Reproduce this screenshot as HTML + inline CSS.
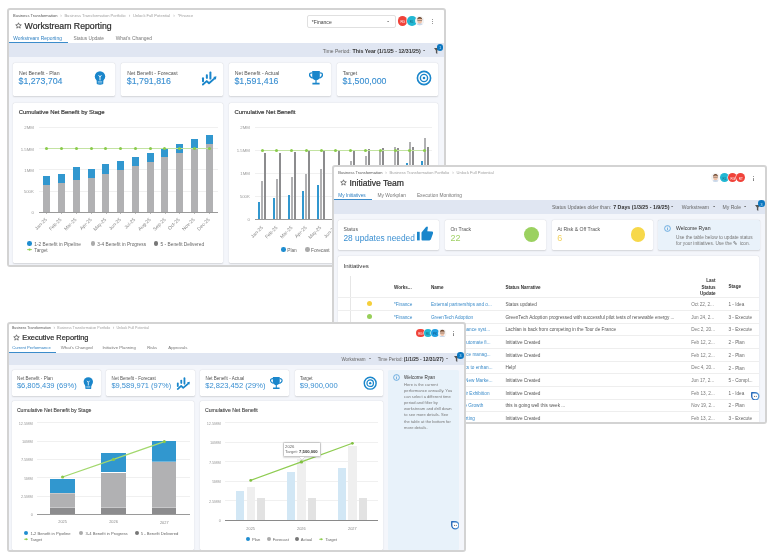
<!DOCTYPE html>
<html><head><meta charset="utf-8"><title>Reporting dashboards</title><style>
*{margin:0;padding:0;box-sizing:border-box}
html,body{width:768px;height:556px;background:#fff;overflow:hidden}
body{position:relative;font-family:'Liberation Sans','DejaVu Sans',sans-serif}
.win{position:absolute;background:#fff;overflow:hidden;outline:2px solid #d3d3d3;border-radius:1px}
.win>div,.win>svg{position:absolute}
.t{white-space:nowrap;line-height:1}
</style></head>
<body>
<div class="win" style="left:9.10px;top:9.80px;width:434.90px;height:255.70px;z-index:1"><div style="left:0.00px;top:47.70px;width:434.90px;height:208.00px;background:#f4f6fb;"></div>
<div style="left:0.00px;top:33.20px;width:434.90px;height:14.50px;background:#e0e6f2;"></div>
<div class="t" style="left:3.90px;top:4.20px;font-size:4.062px;color:#555;">Business Transformation</div>
<div class="t" style="left:51.20px;top:4.20px;font-size:4.500px;color:#aaa;">›</div>
<div class="t" style="left:55.30px;top:4.20px;font-size:4.107px;color:#a0a0a0;">Business Transformation Portfolio</div>
<div class="t" style="left:119.55px;top:4.20px;font-size:4.500px;color:#aaa;">›</div>
<div class="t" style="left:123.90px;top:4.20px;font-size:4.092px;color:#a0a0a0;">Unlock Full Potential</div>
<div class="t" style="left:164.15px;top:4.20px;font-size:4.500px;color:#aaa;">›</div>
<div class="t" style="left:168.60px;top:4.20px;font-size:3.902px;color:#a0a0a0;">*Finance</div>
<svg style="left:6.20px;top:12.70px" width="7.00" height="7.00" viewBox="0 0 10 10"><polygon points="5.000,1.150 6.111,3.821 8.994,4.052 6.797,5.934 7.469,8.748 5.000,7.240 2.531,8.748 3.203,5.934 1.006,4.052 3.889,3.821" fill="none" stroke="#444" stroke-width="0.95" stroke-linejoin="round"/></svg>
<div class="t" style="left:15.50px;top:12.20px;font-size:8.723px;color:#2e2e2e;-webkit-text-stroke:0.22px #2e2e2e;">Workstream Reporting</div>
<div class="t" style="left:4.10px;top:27.20px;font-size:4.887px;color:#2f80c2;">Workstream Reporting</div>
<div class="t" style="left:64.50px;top:27.20px;font-size:4.797px;color:#777;">Status Update</div>
<div class="t" style="left:106.60px;top:27.20px;font-size:4.931px;color:#777;">What's Changed</div>
<div style="left:0.00px;top:32.00px;width:58.90px;height:1.20px;background:#3b8ccb;"></div>
<div style="left:298.10px;top:4.90px;width:88.40px;height:12.90px;background:#fff;border:0.8px solid #e0e0e0;border-radius:2px;box-sizing:border-box;"></div>
<div class="t" style="left:302.70px;top:10.20px;font-size:5.067px;color:#444;">*Finance</div>
<svg style="left:378.20px;top:10.95px" width="2.20" height="1.10" viewBox="0 0 2.2 1.1"><path d="M0 0 L2.2 0 L1.1 1.1 Z" fill="#666"/></svg>
<div style="left:388.80px;top:6.40px;width:9.60px;height:9.60px;background:#f0433a;border-radius:50%;box-shadow:0 0 0 0.6px #fff;"></div>
<div class="t" style="left:391.35px;top:11.20px;font-size:3.000px;color:#fff;">RG</div>
<div style="left:397.90px;top:6.40px;width:9.60px;height:9.60px;background:#22b7d3;border-radius:50%;box-shadow:0 0 0 0.6px #fff;"></div>
<div class="t" style="left:400.78px;top:11.20px;font-size:3.000px;color:#176a80;">RL</div>
<svg style="left:405.60px;top:6.50px" width="9.40" height="9.40" viewBox="0 0 10 10"><defs><clipPath id="ph1"><circle cx="5" cy="5" r="5"/></clipPath></defs><g clip-path="url(#ph1)"><rect width="10" height="10" fill="#f3f3f3"/><path d="M1.2 10.5 Q1.6 7.6 5 7.5 Q8.4 7.6 8.8 10.5 Z" fill="#c9d8ea"/><ellipse cx="5" cy="5.0" rx="2.55" ry="3.0" fill="#efc1a6"/><path d="M2.3 4.9 Q2.0 1.0 5.0 1.0 Q8.0 1.0 7.7 4.9 L7.2 3.3 Q5 2.5 2.8 3.3 Z" fill="#6e4a33"/><rect x="2.6" y="4.3" width="4.8" height="0.8" fill="#555" opacity="0.7"/></g></svg>
<div style="left:423.05px;top:9.45px;width:1.10px;height:1.10px;background:#777;border-radius:50%;"></div>
<div style="left:423.05px;top:11.15px;width:1.10px;height:1.10px;background:#777;border-radius:50%;"></div>
<div style="left:423.05px;top:12.85px;width:1.10px;height:1.10px;background:#777;border-radius:50%;"></div>
<div class="t" style="left:313.60px;top:39.20px;font-size:5.281px;color:#333;"><span style="font-size:4.990px;color:#666;">Time Period:</span><span style="font-size:5.281px;color:#333;font-weight:bold;margin-left:1.90px;">This Year (1/1/25 - 12/31/25)</span></div>
<svg style="left:414.00px;top:40.15px" width="2.20" height="1.10" viewBox="0 0 2.2 1.1"><path d="M0 0 L2.2 0 L1.1 1.1 Z" fill="#444"/></svg>
<svg style="left:425.00px;top:38.40px" width="5.20" height="6.00" viewBox="0 0 5.2 6"><path d="M0 0 L5.2 0 L3.3 2.5 L3.3 6.0 L1.9 5.0 L1.9 2.5 Z" fill="#555"/></svg>
<div style="left:427.80px;top:34.20px;width:6.60px;height:6.60px;background:#0b77c0;border-radius:50%;"></div>
<div class="t" style="left:430.10px;top:37.20px;font-size:3.600px;color:#cfe6f7;">1</div>
<div style="left:3.80px;top:53.00px;width:102.00px;height:33.40px;background:#fff;border-radius:1.5px;box-shadow:0 0.7px 1.6px rgba(0,0,0,0.14),0 0 0.6px rgba(0,0,0,0.10);"></div>
<div class="t" style="left:9.80px;top:61.20px;font-size:5.200px;color:#555;">Net Benefit - Plan</div>
<div class="t" style="left:9.40px;top:67.20px;font-size:8.800px;color:#3a8fd1;-webkit-text-stroke:0.12px #3a8fd1;">$1,273,704</div>
<svg style="left:84.30px;top:61.20px" width="14.00" height="14.00" viewBox="0 0 14 14"><circle cx="7" cy="5.4" r="5.2" fill="#1a86cb"/><path d="M3.6 8.6 L10.4 8.6 L10.2 13.0 Q7 14.4 3.8 13.0 Z" fill="#1a86cb"/><path d="M5.6 4.2 L7 6.0 L8.4 4.2 M7 6.0 L7 9.4" stroke="#fff" stroke-width="0.9" fill="none"/><path d="M4.8 10.6 L9.2 10.6 M4.8 11.9 L9.2 11.9" stroke="#d8ecf8" stroke-width="0.55"/></svg>
<div style="left:112.10px;top:53.00px;width:101.70px;height:33.40px;background:#fff;border-radius:1.5px;box-shadow:0 0.7px 1.6px rgba(0,0,0,0.14),0 0 0.6px rgba(0,0,0,0.10);"></div>
<div class="t" style="left:118.10px;top:61.20px;font-size:5.200px;color:#555;">Net Benefit - Forecast</div>
<div class="t" style="left:117.70px;top:67.20px;font-size:8.800px;color:#3a8fd1;-webkit-text-stroke:0.12px #3a8fd1;">$1,791,816</div>
<svg style="left:191.90px;top:60.20px" width="16.00" height="16.00" viewBox="0 0 16 16"><g fill="#1a86cb"><rect x="1.0" y="7.3" width="2.0" height="4.9" rx="0.9"/><rect x="4.85" y="4.2" width="2.0" height="4.6" rx="0.9"/><rect x="8.4" y="1.5" width="2.0" height="8.1" rx="0.9"/><path d="M15.4 6.3 L12.2 7.0 L14.9 9.7 Z"/></g><path d="M1.9 14.5 L5.75 11.1 L8.0 13.3 L13.6 8.4" stroke="#1a86cb" stroke-width="1.9" fill="none" stroke-linecap="round" stroke-linejoin="round"/></svg>
<div style="left:219.70px;top:53.00px;width:102.10px;height:33.40px;background:#fff;border-radius:1.5px;box-shadow:0 0.7px 1.6px rgba(0,0,0,0.14),0 0 0.6px rgba(0,0,0,0.10);"></div>
<div class="t" style="left:225.70px;top:61.20px;font-size:5.200px;color:#555;">Net Benefit - Actual</div>
<div class="t" style="left:225.30px;top:67.20px;font-size:8.800px;color:#3a8fd1;-webkit-text-stroke:0.12px #3a8fd1;">$1,591,416</div>
<svg style="left:300.10px;top:61.30px" width="14.00" height="14.00" viewBox="0 0 14 14"><path d="M3.2 0 L10.8 0 L10.8 5.6 Q10.6 8.6 7.6 9.2 L7.6 11.8 L10.6 11.8 L10.6 13.6 L3.4 13.6 L3.4 11.8 L6.4 11.8 L6.4 9.2 Q3.4 8.6 3.2 5.6 Z" fill="#1a86cb"/><path d="M3.4 1.8 Q0.4 1.6 0.6 4.2 Q0.9 6.6 3.8 7.0 M10.6 1.8 Q13.6 1.6 13.4 4.2 Q13.1 6.6 10.2 7.0" stroke="#1a86cb" stroke-width="1.3" fill="none"/></svg>
<div style="left:327.70px;top:53.00px;width:101.40px;height:33.40px;background:#fff;border-radius:1.5px;box-shadow:0 0.7px 1.6px rgba(0,0,0,0.14),0 0 0.6px rgba(0,0,0,0.10);"></div>
<div class="t" style="left:333.70px;top:61.20px;font-size:5.200px;color:#555;">Target</div>
<div class="t" style="left:333.30px;top:67.20px;font-size:8.800px;color:#3a8fd1;-webkit-text-stroke:0.12px #3a8fd1;">$1,500,000</div>
<svg style="left:406.60px;top:60.20px" width="16.00" height="16.00" viewBox="0 0 16 16"><circle cx="8" cy="8" r="6.6" stroke="#1a86cb" stroke-width="1.6" fill="none"/><circle cx="8" cy="8" r="3.6" stroke="#1a86cb" stroke-width="1.4" fill="none"/><circle cx="8" cy="8" r="1.3" fill="#1a86cb"/></svg>
<div style="left:3.80px;top:93.50px;width:210.00px;height:159.70px;background:#fff;border-radius:1.5px;box-shadow:0 0.7px 1.6px rgba(0,0,0,0.14),0 0 0.6px rgba(0,0,0,0.10);"></div>
<div style="left:219.70px;top:93.50px;width:209.40px;height:159.70px;background:#fff;border-radius:1.5px;box-shadow:0 0.7px 1.6px rgba(0,0,0,0.14),0 0 0.6px rgba(0,0,0,0.10);"></div>
<div class="t" style="left:9.70px;top:100.20px;font-size:5.951px;color:#3a3a3a;-webkit-text-stroke:0.18px #3a3a3a;">Cumulative Net Benefit by Stage</div>
<div class="t" style="left:225.40px;top:99.20px;font-size:5.984px;color:#3a3a3a;-webkit-text-stroke:0.18px #3a3a3a;">Cumulative Net Benefit</div>
<div style="left:29.90px;top:180.80px;width:179.50px;height:0.70px;background:#f0f0f0;"></div>
<div class="t" style="left:14.76px;top:180.20px;font-size:4.300px;color:#999;">500K</div>
<div style="left:29.90px;top:159.65px;width:179.50px;height:0.70px;background:#f0f0f0;"></div>
<div class="t" style="left:15.24px;top:159.20px;font-size:4.300px;color:#999;">1MM</div>
<div style="left:29.90px;top:138.50px;width:179.50px;height:0.70px;background:#f0f0f0;"></div>
<div class="t" style="left:11.66px;top:138.20px;font-size:4.300px;color:#999;">1.5MM</div>
<div style="left:29.90px;top:117.35px;width:179.50px;height:0.70px;background:#f0f0f0;"></div>
<div class="t" style="left:15.24px;top:116.20px;font-size:4.300px;color:#999;">2MM</div>
<div class="t" style="left:22.41px;top:201.20px;font-size:4.300px;color:#999;">0</div>
<div style="left:34.10px;top:166.00px;width:7.00px;height:36.30px;background:#3197cf;"></div>
<div style="left:34.10px;top:175.10px;width:7.00px;height:27.20px;background:#b1b1b3;"></div>
<div style="left:37.30px;top:202.30px;width:0.60px;height:1.60px;background:#bbb;"></div>
<div class="t" style="left:23.02px;top:207.25px;font-size:4.90px;color:#888;transform-origin:100% 50%;transform:rotate(-45deg)">Jan-25</div>
<div style="left:48.88px;top:163.90px;width:7.00px;height:38.40px;background:#3197cf;"></div>
<div style="left:48.88px;top:172.80px;width:7.00px;height:29.50px;background:#b1b1b3;"></div>
<div style="left:52.08px;top:202.30px;width:0.60px;height:1.60px;background:#bbb;"></div>
<div class="t" style="left:37.25px;top:207.25px;font-size:4.90px;color:#888;transform-origin:100% 50%;transform:rotate(-45deg)">Feb-25</div>
<div style="left:63.66px;top:157.10px;width:7.00px;height:45.20px;background:#3197cf;"></div>
<div style="left:63.66px;top:170.70px;width:7.00px;height:31.60px;background:#b1b1b3;"></div>
<div style="left:66.86px;top:202.30px;width:0.60px;height:1.60px;background:#bbb;"></div>
<div class="t" style="left:52.04px;top:207.25px;font-size:4.90px;color:#888;transform-origin:100% 50%;transform:rotate(-45deg)">Mar-25</div>
<div style="left:78.44px;top:159.20px;width:7.00px;height:43.10px;background:#3197cf;"></div>
<div style="left:78.44px;top:168.30px;width:7.00px;height:34.00px;background:#b1b1b3;"></div>
<div style="left:81.64px;top:202.30px;width:0.60px;height:1.60px;background:#bbb;"></div>
<div class="t" style="left:67.63px;top:207.25px;font-size:4.90px;color:#888;transform-origin:100% 50%;transform:rotate(-45deg)">Apr-25</div>
<div style="left:93.22px;top:154.70px;width:7.00px;height:47.60px;background:#3197cf;"></div>
<div style="left:93.22px;top:164.30px;width:7.00px;height:38.00px;background:#b1b1b3;"></div>
<div style="left:96.42px;top:202.30px;width:0.60px;height:1.60px;background:#bbb;"></div>
<div class="t" style="left:80.78px;top:207.25px;font-size:4.90px;color:#888;transform-origin:100% 50%;transform:rotate(-45deg)">May-25</div>
<div style="left:108.00px;top:151.00px;width:7.00px;height:51.30px;background:#3197cf;"></div>
<div style="left:108.00px;top:160.10px;width:7.00px;height:42.20px;background:#b1b1b3;"></div>
<div style="left:111.20px;top:202.30px;width:0.60px;height:1.60px;background:#bbb;"></div>
<div class="t" style="left:96.92px;top:207.25px;font-size:4.90px;color:#888;transform-origin:100% 50%;transform:rotate(-45deg)">Jun-25</div>
<div style="left:122.78px;top:147.00px;width:7.00px;height:55.30px;background:#3197cf;"></div>
<div style="left:122.78px;top:156.10px;width:7.00px;height:46.20px;background:#b1b1b3;"></div>
<div style="left:125.98px;top:202.30px;width:0.60px;height:1.60px;background:#bbb;"></div>
<div class="t" style="left:113.33px;top:207.25px;font-size:4.90px;color:#888;transform-origin:100% 50%;transform:rotate(-45deg)">Jul-25</div>
<div style="left:137.56px;top:142.80px;width:7.00px;height:59.50px;background:#3197cf;"></div>
<div style="left:137.56px;top:151.90px;width:7.00px;height:50.40px;background:#b1b1b3;"></div>
<div style="left:140.76px;top:202.30px;width:0.60px;height:1.60px;background:#bbb;"></div>
<div class="t" style="left:125.66px;top:207.25px;font-size:4.90px;color:#888;transform-origin:100% 50%;transform:rotate(-45deg)">Aug-25</div>
<div style="left:152.34px;top:139.00px;width:7.00px;height:63.30px;background:#3197cf;"></div>
<div style="left:152.34px;top:147.50px;width:7.00px;height:54.80px;background:#b1b1b3;"></div>
<div style="left:155.54px;top:202.30px;width:0.60px;height:1.60px;background:#bbb;"></div>
<div class="t" style="left:140.44px;top:207.25px;font-size:4.90px;color:#888;transform-origin:100% 50%;transform:rotate(-45deg)">Sep-25</div>
<div style="left:167.12px;top:133.90px;width:7.00px;height:68.40px;background:#3197cf;"></div>
<div style="left:167.12px;top:143.00px;width:7.00px;height:59.30px;background:#b1b1b3;"></div>
<div style="left:170.32px;top:202.30px;width:0.60px;height:1.60px;background:#bbb;"></div>
<div class="t" style="left:156.32px;top:207.25px;font-size:4.90px;color:#888;transform-origin:100% 50%;transform:rotate(-45deg)">Oct-25</div>
<div style="left:181.90px;top:129.70px;width:7.00px;height:72.60px;background:#3197cf;"></div>
<div style="left:181.90px;top:139.00px;width:7.00px;height:63.30px;background:#b1b1b3;"></div>
<div style="left:185.10px;top:202.30px;width:0.60px;height:1.60px;background:#bbb;"></div>
<div class="t" style="left:170.00px;top:207.25px;font-size:4.90px;color:#888;transform-origin:100% 50%;transform:rotate(-45deg)">Nov-25</div>
<div style="left:196.68px;top:125.40px;width:7.00px;height:76.90px;background:#3197cf;"></div>
<div style="left:196.68px;top:134.60px;width:7.00px;height:67.70px;background:#b1b1b3;"></div>
<div style="left:199.88px;top:202.30px;width:0.60px;height:1.60px;background:#bbb;"></div>
<div class="t" style="left:184.78px;top:207.25px;font-size:4.90px;color:#888;transform-origin:100% 50%;transform:rotate(-45deg)">Dec-25</div>
<div style="left:29.90px;top:201.90px;width:179.50px;height:0.90px;background:#9a9a9a;"></div>
<div style="left:37.60px;top:138.70px;width:162.58px;height:1.00px;background:#c3e3a2;"></div>
<div style="left:36.10px;top:137.70px;width:3.00px;height:3.00px;background:#8acb4c;border-radius:50%;"></div>
<div style="left:50.88px;top:137.70px;width:3.00px;height:3.00px;background:#8acb4c;border-radius:50%;"></div>
<div style="left:65.66px;top:137.70px;width:3.00px;height:3.00px;background:#8acb4c;border-radius:50%;"></div>
<div style="left:80.44px;top:137.70px;width:3.00px;height:3.00px;background:#8acb4c;border-radius:50%;"></div>
<div style="left:95.22px;top:137.70px;width:3.00px;height:3.00px;background:#8acb4c;border-radius:50%;"></div>
<div style="left:110.00px;top:137.70px;width:3.00px;height:3.00px;background:#8acb4c;border-radius:50%;"></div>
<div style="left:124.78px;top:137.70px;width:3.00px;height:3.00px;background:#8acb4c;border-radius:50%;"></div>
<div style="left:139.56px;top:137.70px;width:3.00px;height:3.00px;background:#8acb4c;border-radius:50%;"></div>
<div style="left:154.34px;top:137.70px;width:3.00px;height:3.00px;background:#8acb4c;border-radius:50%;"></div>
<div style="left:169.12px;top:137.70px;width:3.00px;height:3.00px;background:#8acb4c;border-radius:50%;"></div>
<div style="left:183.90px;top:137.70px;width:3.00px;height:3.00px;background:#8acb4c;border-radius:50%;"></div>
<div style="left:198.68px;top:137.70px;width:3.00px;height:3.00px;background:#8acb4c;border-radius:50%;"></div>
<div style="left:18.20px;top:231.40px;width:4.60px;height:4.60px;background:#1f8dd0;border-radius:50%;"></div>
<div class="t" style="left:25.20px;top:233.20px;font-size:4.800px;color:#666;">1-2 Benefit in Pipeline</div>
<div style="left:81.50px;top:231.40px;width:4.60px;height:4.60px;background:#aaaaaa;border-radius:50%;"></div>
<div class="t" style="left:88.20px;top:233.20px;font-size:4.800px;color:#666;">3-4 Benefit in Progress</div>
<div style="left:144.50px;top:231.40px;width:4.60px;height:4.60px;background:#777777;border-radius:50%;"></div>
<div class="t" style="left:151.50px;top:233.20px;font-size:4.800px;color:#666;">5 - Benefit Delivered</div>
<svg style="left:17.90px;top:237.60px" width="5.20" height="5.20" viewBox="0 0 5.2 5.2"><line x1="0" y1="2.6" x2="5.2" y2="2.6" stroke="#9fd46a" stroke-width="0.91"/><circle cx="2.6" cy="2.6" r="1.17" fill="#8ccc4e"/></svg>
<div class="t" style="left:25.20px;top:239.20px;font-size:4.800px;color:#666;">Target</div>
<div style="left:245.50px;top:186.38px;width:177.90px;height:0.70px;background:#f0f0f0;"></div>
<div class="t" style="left:230.76px;top:185.20px;font-size:4.300px;color:#999;">500K</div>
<div style="left:245.50px;top:163.30px;width:177.90px;height:0.70px;background:#f0f0f0;"></div>
<div class="t" style="left:231.24px;top:162.20px;font-size:4.300px;color:#999;">1MM</div>
<div style="left:245.50px;top:140.22px;width:177.90px;height:0.70px;background:#f0f0f0;"></div>
<div class="t" style="left:227.66px;top:139.20px;font-size:4.300px;color:#999;">1.5MM</div>
<div style="left:245.50px;top:117.15px;width:177.90px;height:0.70px;background:#f0f0f0;"></div>
<div class="t" style="left:231.24px;top:116.20px;font-size:4.300px;color:#999;">2MM</div>
<div class="t" style="left:238.41px;top:208.20px;font-size:4.300px;color:#999;">0</div>
<div style="left:249.00px;top:192.50px;width:2.00px;height:17.30px;background:#3197cf;"></div>
<div style="left:252.00px;top:171.70px;width:2.00px;height:38.10px;background:#b1b1b3;"></div>
<div style="left:255.00px;top:143.50px;width:2.00px;height:66.30px;background:#8c8c8e;"></div>
<div class="t" style="left:238.42px;top:214.75px;font-size:4.90px;color:#888;transform-origin:100% 50%;transform:rotate(-45deg)">Jan-25</div>
<div style="left:263.78px;top:188.70px;width:2.00px;height:21.10px;background:#3197cf;"></div>
<div style="left:266.78px;top:169.10px;width:2.00px;height:40.70px;background:#b1b1b3;"></div>
<div style="left:269.78px;top:143.00px;width:2.00px;height:66.80px;background:#8c8c8e;"></div>
<div class="t" style="left:252.65px;top:214.75px;font-size:4.90px;color:#888;transform-origin:100% 50%;transform:rotate(-45deg)">Feb-25</div>
<div style="left:278.56px;top:184.80px;width:2.00px;height:25.00px;background:#3197cf;"></div>
<div style="left:281.56px;top:166.90px;width:2.00px;height:42.90px;background:#b1b1b3;"></div>
<div style="left:284.56px;top:142.10px;width:2.00px;height:67.70px;background:#8c8c8e;"></div>
<div class="t" style="left:267.44px;top:214.75px;font-size:4.90px;color:#888;transform-origin:100% 50%;transform:rotate(-45deg)">Mar-25</div>
<div style="left:293.34px;top:181.20px;width:2.00px;height:28.60px;background:#3197cf;"></div>
<div style="left:296.34px;top:164.30px;width:2.00px;height:45.50px;background:#b1b1b3;"></div>
<div style="left:299.34px;top:141.60px;width:2.00px;height:68.20px;background:#8c8c8e;"></div>
<div class="t" style="left:283.03px;top:214.75px;font-size:4.90px;color:#888;transform-origin:100% 50%;transform:rotate(-45deg)">Apr-25</div>
<div style="left:308.12px;top:175.30px;width:2.00px;height:34.50px;background:#3197cf;"></div>
<div style="left:311.12px;top:159.70px;width:2.00px;height:50.10px;background:#b1b1b3;"></div>
<div style="left:314.12px;top:141.20px;width:2.00px;height:68.60px;background:#8c8c8e;"></div>
<div class="t" style="left:296.18px;top:214.75px;font-size:4.90px;color:#888;transform-origin:100% 50%;transform:rotate(-45deg)">May-25</div>
<div style="left:322.90px;top:170.00px;width:2.00px;height:39.80px;background:#3197cf;"></div>
<div style="left:325.90px;top:156.20px;width:2.00px;height:53.60px;background:#b1b1b3;"></div>
<div style="left:328.90px;top:141.00px;width:2.00px;height:68.80px;background:#8c8c8e;"></div>
<div class="t" style="left:312.32px;top:214.75px;font-size:4.90px;color:#888;transform-origin:100% 50%;transform:rotate(-45deg)">Jun-25</div>
<div style="left:337.68px;top:165.20px;width:2.00px;height:44.60px;background:#3197cf;"></div>
<div style="left:340.68px;top:151.20px;width:2.00px;height:58.60px;background:#b1b1b3;"></div>
<div style="left:343.68px;top:140.20px;width:2.00px;height:69.60px;background:#8c8c8e;"></div>
<div class="t" style="left:328.73px;top:214.75px;font-size:4.90px;color:#888;transform-origin:100% 50%;transform:rotate(-45deg)">Jul-25</div>
<div style="left:352.46px;top:161.20px;width:2.00px;height:48.60px;background:#3197cf;"></div>
<div style="left:355.46px;top:146.70px;width:2.00px;height:63.10px;background:#b1b1b3;"></div>
<div style="left:358.46px;top:139.50px;width:2.00px;height:70.30px;background:#8c8c8e;"></div>
<div class="t" style="left:341.06px;top:214.75px;font-size:4.90px;color:#888;transform-origin:100% 50%;transform:rotate(-45deg)">Aug-25</div>
<div style="left:367.24px;top:158.20px;width:2.00px;height:51.60px;background:#3197cf;"></div>
<div style="left:370.24px;top:139.80px;width:2.00px;height:70.00px;background:#b1b1b3;"></div>
<div style="left:373.24px;top:138.70px;width:2.00px;height:71.10px;background:#8c8c8e;"></div>
<div class="t" style="left:355.84px;top:214.75px;font-size:4.90px;color:#888;transform-origin:100% 50%;transform:rotate(-45deg)">Sep-25</div>
<div style="left:382.02px;top:155.20px;width:2.00px;height:54.60px;background:#3197cf;"></div>
<div style="left:385.02px;top:137.20px;width:2.00px;height:72.60px;background:#b1b1b3;"></div>
<div style="left:388.02px;top:138.40px;width:2.00px;height:71.40px;background:#8c8c8e;"></div>
<div class="t" style="left:371.72px;top:214.75px;font-size:4.90px;color:#888;transform-origin:100% 50%;transform:rotate(-45deg)">Oct-25</div>
<div style="left:396.80px;top:153.10px;width:2.00px;height:56.70px;background:#3197cf;"></div>
<div style="left:399.80px;top:132.70px;width:2.00px;height:77.10px;background:#b1b1b3;"></div>
<div style="left:402.80px;top:137.70px;width:2.00px;height:72.10px;background:#8c8c8e;"></div>
<div class="t" style="left:385.40px;top:214.75px;font-size:4.90px;color:#888;transform-origin:100% 50%;transform:rotate(-45deg)">Nov-25</div>
<div style="left:411.58px;top:151.60px;width:2.00px;height:58.20px;background:#3197cf;"></div>
<div style="left:414.58px;top:128.20px;width:2.00px;height:81.60px;background:#b1b1b3;"></div>
<div style="left:417.58px;top:137.50px;width:2.00px;height:72.30px;background:#8c8c8e;"></div>
<div class="t" style="left:400.18px;top:214.75px;font-size:4.90px;color:#888;transform-origin:100% 50%;transform:rotate(-45deg)">Dec-25</div>
<div style="left:245.50px;top:209.40px;width:177.90px;height:0.90px;background:#9a9a9a;"></div>
<div style="left:253.00px;top:140.40px;width:162.58px;height:1.00px;background:#c3e3a2;"></div>
<div style="left:251.50px;top:139.40px;width:3.00px;height:3.00px;background:#8acb4c;border-radius:50%;"></div>
<div style="left:266.28px;top:139.40px;width:3.00px;height:3.00px;background:#8acb4c;border-radius:50%;"></div>
<div style="left:281.06px;top:139.40px;width:3.00px;height:3.00px;background:#8acb4c;border-radius:50%;"></div>
<div style="left:295.84px;top:139.40px;width:3.00px;height:3.00px;background:#8acb4c;border-radius:50%;"></div>
<div style="left:310.62px;top:139.40px;width:3.00px;height:3.00px;background:#8acb4c;border-radius:50%;"></div>
<div style="left:325.40px;top:139.40px;width:3.00px;height:3.00px;background:#8acb4c;border-radius:50%;"></div>
<div style="left:340.18px;top:139.40px;width:3.00px;height:3.00px;background:#8acb4c;border-radius:50%;"></div>
<div style="left:354.96px;top:139.40px;width:3.00px;height:3.00px;background:#8acb4c;border-radius:50%;"></div>
<div style="left:369.74px;top:139.40px;width:3.00px;height:3.00px;background:#8acb4c;border-radius:50%;"></div>
<div style="left:384.52px;top:139.40px;width:3.00px;height:3.00px;background:#8acb4c;border-radius:50%;"></div>
<div style="left:399.30px;top:139.40px;width:3.00px;height:3.00px;background:#8acb4c;border-radius:50%;"></div>
<div style="left:414.08px;top:139.40px;width:3.00px;height:3.00px;background:#8acb4c;border-radius:50%;"></div>
<div style="left:272.40px;top:237.60px;width:4.60px;height:4.60px;background:#1f8dd0;border-radius:50%;"></div>
<div class="t" style="left:278.10px;top:239.20px;font-size:4.800px;color:#666;">Plan</div>
<div style="left:296.10px;top:237.60px;width:4.60px;height:4.60px;background:#aaaaaa;border-radius:50%;"></div>
<div class="t" style="left:301.90px;top:239.20px;font-size:4.800px;color:#666;">Forecast</div>
<div style="left:324.10px;top:237.60px;width:4.60px;height:4.60px;background:#777777;border-radius:50%;"></div>
<div class="t" style="left:329.90px;top:239.20px;font-size:4.800px;color:#666;">Actual</div></div>
<div class="win" style="left:334.40px;top:166.70px;width:431.00px;height:255.30px;z-index:2"><div style="left:0.00px;top:47.50px;width:431.00px;height:207.80px;background:#f4f6fb;"></div>
<div style="left:0.00px;top:33.50px;width:431.00px;height:14.00px;background:#e0e6f2;"></div>
<div class="t" style="left:3.80px;top:4.30px;font-size:4.025px;color:#555;">Business Transformation</div>
<div class="t" style="left:50.85px;top:4.30px;font-size:4.500px;color:#aaa;">›</div>
<div class="t" style="left:55.10px;top:4.30px;font-size:4.013px;color:#a0a0a0;">Business Transformation Portfolio</div>
<div class="t" style="left:117.85px;top:4.30px;font-size:4.500px;color:#aaa;">›</div>
<div class="t" style="left:122.10px;top:4.30px;font-size:4.092px;color:#a0a0a0;">Unlock Full Potential</div>
<svg style="left:6.00px;top:12.70px" width="7.00" height="7.00" viewBox="0 0 10 10"><polygon points="5.000,1.150 6.111,3.821 8.994,4.052 6.797,5.934 7.469,8.748 5.000,7.240 2.531,8.748 3.203,5.934 1.006,4.052 3.889,3.821" fill="none" stroke="#444" stroke-width="0.95" stroke-linejoin="round"/></svg>
<div class="t" style="left:15.00px;top:12.30px;font-size:8.567px;color:#2e2e2e;-webkit-text-stroke:0.22px #2e2e2e;">Initiative Team</div>
<div class="t" style="left:3.80px;top:27.30px;font-size:4.776px;color:#2f80c2;">My Initiatives</div>
<div class="t" style="left:43.10px;top:27.30px;font-size:4.883px;color:#777;">My Workplan</div>
<div class="t" style="left:82.50px;top:27.30px;font-size:4.840px;color:#777;">Execution Monitoring</div>
<div style="left:0.00px;top:32.30px;width:37.30px;height:1.20px;background:#3b8ccb;"></div>
<svg style="left:376.80px;top:6.70px" width="9.00" height="9.00" viewBox="0 0 10 10"><defs><clipPath id="ph2"><circle cx="5" cy="5" r="5"/></clipPath></defs><g clip-path="url(#ph2)"><rect width="10" height="10" fill="#f3f3f3"/><path d="M1.2 10.5 Q1.6 7.6 5 7.5 Q8.4 7.6 8.8 10.5 Z" fill="#c9d8ea"/><ellipse cx="5" cy="5.0" rx="2.55" ry="3.0" fill="#efc1a6"/><path d="M2.3 4.9 Q2.0 1.0 5.0 1.0 Q8.0 1.0 7.7 4.9 L7.2 3.3 Q5 2.5 2.8 3.3 Z" fill="#6e4a33"/><rect x="2.6" y="4.3" width="4.8" height="0.8" fill="#555" opacity="0.7"/></g></svg>
<div style="left:385.40px;top:6.60px;width:9.20px;height:9.20px;background:#22b7d3;border-radius:50%;box-shadow:0 0 0 0.6px #fff;"></div>
<div class="t" style="left:388.08px;top:11.30px;font-size:3.000px;color:#176a80;">RL</div>
<div style="left:393.80px;top:6.60px;width:9.20px;height:9.20px;background:#f0433a;border-radius:50%;box-shadow:0 0 0 0.6px #fff;"></div>
<div class="t" style="left:396.15px;top:11.30px;font-size:3.000px;color:#fff;">RG</div>
<div style="left:401.80px;top:6.60px;width:9.20px;height:9.20px;background:#f0433a;border-radius:50%;box-shadow:0 0 0 0.6px #fff;"></div>
<div class="t" style="left:404.43px;top:11.30px;font-size:3.000px;color:#fff;">RT</div>
<div style="left:418.95px;top:9.35px;width:1.10px;height:1.10px;background:#777;border-radius:50%;"></div>
<div style="left:418.95px;top:11.05px;width:1.10px;height:1.10px;background:#777;border-radius:50%;"></div>
<div style="left:418.95px;top:12.75px;width:1.10px;height:1.10px;background:#777;border-radius:50%;"></div>
<div class="t" style="left:217.50px;top:38.30px;font-size:5.312px;color:#333;"><span style="font-size:5.008px;color:#666;">Status Updates older than:</span><span style="font-size:5.312px;color:#333;font-weight:bold;margin-left:2.10px;">7 Days (1/3/25 - 1/9/25)</span></div>
<svg style="left:337.10px;top:39.75px" width="2.20" height="1.10" viewBox="0 0 2.2 1.1"><path d="M0 0 L2.2 0 L1.1 1.1 Z" fill="#444"/></svg>
<div class="t" style="left:347.40px;top:38.30px;font-size:5.083px;color:#666;">Workstream</div>
<svg style="left:378.40px;top:39.75px" width="2.20" height="1.10" viewBox="0 0 2.2 1.1"><path d="M0 0 L2.2 0 L1.1 1.1 Z" fill="#444"/></svg>
<div class="t" style="left:388.10px;top:38.30px;font-size:5.099px;color:#666;">My Role</div>
<svg style="left:409.80px;top:39.75px" width="2.20" height="1.10" viewBox="0 0 2.2 1.1"><path d="M0 0 L2.2 0 L1.1 1.1 Z" fill="#444"/></svg>
<svg style="left:420.90px;top:38.30px" width="5.20" height="6.00" viewBox="0 0 5.2 6"><path d="M0 0 L5.2 0 L3.3 2.5 L3.3 6.0 L1.9 5.0 L1.9 2.5 Z" fill="#555"/></svg>
<div style="left:423.70px;top:33.70px;width:6.60px;height:6.60px;background:#0b77c0;border-radius:50%;"></div>
<div class="t" style="left:426.00px;top:37.30px;font-size:3.600px;color:#cfe6f7;">3</div>
<div style="left:3.80px;top:53.30px;width:101.00px;height:30.40px;background:#fff;border-radius:1.5px;box-shadow:0 0.7px 1.6px rgba(0,0,0,0.14),0 0 0.6px rgba(0,0,0,0.10);"></div>
<div class="t" style="left:9.10px;top:60.30px;font-size:5.100px;color:#555;">Status</div>
<div class="t" style="left:9.10px;top:67.30px;font-size:8.349px;color:#3a8fd1;">28 updates needed</div>
<svg style="left:82.20px;top:59.50px" width="16.50" height="14.60" viewBox="0 0 16.5 14.6"><rect x="0" y="5.8" width="2.7" height="8.6" fill="#1a86cb"/><path d="M4.5 6.4 L9.0 0.9 Q10.6 -0.4 10.9 1.6 L10.3 5.2 L15.2 5.6 Q16.4 5.9 16.0 7.4 L13.8 13.6 Q13.4 14.4 12.4 14.4 L5.4 14.4 Q4.5 14.4 4.5 13.4 Z" fill="#1a86cb"/></svg>
<div style="left:110.70px;top:53.30px;width:100.80px;height:30.40px;background:#fff;border-radius:1.5px;box-shadow:0 0.7px 1.6px rgba(0,0,0,0.14),0 0 0.6px rgba(0,0,0,0.10);"></div>
<div class="t" style="left:116.00px;top:60.30px;font-size:5.100px;color:#555;">On Track</div>
<div class="t" style="left:116.00px;top:67.30px;font-size:9.000px;color:#a0d166;">22</div>
<div style="left:189.50px;top:60.10px;width:15.00px;height:15.00px;background:#9bd160;border-radius:50%;"></div>
<div style="left:217.50px;top:53.30px;width:100.90px;height:30.40px;background:#fff;border-radius:1.5px;box-shadow:0 0.7px 1.6px rgba(0,0,0,0.14),0 0 0.6px rgba(0,0,0,0.10);"></div>
<div class="t" style="left:222.80px;top:60.30px;font-size:5.100px;color:#555;">At Risk &amp; Off Track</div>
<div class="t" style="left:222.80px;top:67.30px;font-size:9.000px;color:#f3d35f;">6</div>
<div style="left:296.20px;top:60.40px;width:14.80px;height:14.80px;background:#f7d84a;border-radius:50%;"></div>
<div style="left:323.80px;top:53.30px;width:101.50px;height:30.40px;background:#e9f2fa;border-radius:1.5px;box-shadow:0 0.7px 1.6px rgba(0,0,0,0.14),0 0 0.6px rgba(0,0,0,0.10);"></div>
<svg style="left:329.80px;top:58.10px" width="7.00" height="7.00" viewBox="0 0 7 7"><circle cx="3.5" cy="3.5" r="2.9" stroke="#4a9ad8" stroke-width="0.75" fill="none"/><rect x="3.15" y="3.0" width="0.7" height="2.2" fill="#4a9ad8"/><rect x="3.15" y="1.75" width="0.7" height="0.7" fill="#4a9ad8"/></svg>
<div class="t" style="left:341.60px;top:59.30px;font-size:5.117px;color:#333;">Welcome Ryan</div>
<div class="t" style="left:341.60px;top:69.30px;font-size:4.747px;color:#777;">Use the table below to update status</div>
<div class="t" style="left:341.60px;top:74.30px;font-size:4.747px;color:#333;"><span style="font-size:4.747px;color:#777;">for your initiatives. Use the </span><span style="font-size:5.222px;color:#333;font-family:'DejaVu Sans';">✎</span><span style="font-size:4.747px;color:#777;margin-left:1.07px;"> icon.</span></div>
<div style="left:3.80px;top:89.50px;width:421.30px;height:183.80px;background:#fff;border-radius:1.5px;box-shadow:0 0.7px 1.6px rgba(0,0,0,0.14),0 0 0.6px rgba(0,0,0,0.10);"></div>
<div class="t" style="left:9.10px;top:96.30px;font-size:6.093px;color:#333;">Initiatives</div>
<div style="left:15.90px;top:108.90px;width:0.60px;height:164.40px;background:#e6e6e6;"></div>
<div class="t" style="left:59.50px;top:119.30px;font-size:4.600px;color:#333;font-weight:bold;">Works...</div>
<div class="t" style="left:96.60px;top:119.30px;font-size:4.600px;color:#333;font-weight:bold;">Name</div>
<div class="t" style="left:171.00px;top:119.30px;font-size:4.600px;color:#333;font-weight:bold;">Status Narrative</div>
<div class="t" style="left:371.74px;top:112.30px;font-size:4.600px;color:#333;font-weight:bold;">Last</div>
<div class="t" style="left:367.14px;top:119.30px;font-size:4.600px;color:#333;font-weight:bold;">Status</div>
<div class="t" style="left:365.61px;top:125.30px;font-size:4.600px;color:#333;font-weight:bold;">Update</div>
<div class="t" style="left:394.10px;top:118.30px;font-size:4.600px;color:#333;font-weight:bold;">Stage</div>
<div style="left:3.80px;top:130.80px;width:421.30px;height:0.50px;background:#eeeeee;"></div>
<div style="left:32.20px;top:134.80px;width:5.00px;height:5.00px;background:#f5cf3b;border-radius:50%;"></div>
<div class="t" style="left:59.50px;top:136.30px;font-size:4.680px;color:#3a8bc9;">*Finance</div>
<div class="t" style="left:96.60px;top:136.30px;font-size:4.680px;color:#3a8bc9;">External partnerships and o...</div>
<div class="t" style="left:171.00px;top:136.30px;font-size:4.680px;color:#555;">Status updated</div>
<div class="t" style="left:356.80px;top:136.30px;font-size:4.680px;color:#777;">Oct 22, 2...</div>
<div class="t" style="left:394.10px;top:136.30px;font-size:4.680px;color:#666;">1 - Idea</div>
<div style="left:3.80px;top:143.43px;width:421.30px;height:0.50px;background:#eeeeee;"></div>
<div style="left:32.20px;top:147.43px;width:5.00px;height:5.00px;background:#98cf5a;border-radius:50%;"></div>
<div class="t" style="left:59.50px;top:149.30px;font-size:4.680px;color:#3a8bc9;">*Finance</div>
<div class="t" style="left:96.60px;top:149.30px;font-size:4.680px;color:#3a8bc9;">GreenTech Adoption</div>
<div class="t" style="left:171.00px;top:149.30px;font-size:4.680px;color:#555;">GreenTech Adoption progressed with successful pilot tests of renewable energy ...</div>
<div class="t" style="left:356.80px;top:149.30px;font-size:4.680px;color:#777;">Jun 24, 2...</div>
<div class="t" style="left:394.10px;top:149.30px;font-size:4.680px;color:#666;">3 - Execute</div>
<div style="left:3.80px;top:156.06px;width:421.30px;height:0.50px;background:#eeeeee;"></div>
<div style="left:32.20px;top:160.06px;width:5.00px;height:5.00px;background:#98cf5a;border-radius:50%;"></div>
<div class="t" style="left:59.50px;top:162.30px;font-size:4.680px;color:#3a8bc9;">*Finance</div>
<div class="t" style="left:107.52px;top:161.30px;font-size:4.680px;color:#3a8bc9;">Optimise finance syst...</div>
<div class="t" style="left:171.00px;top:161.30px;font-size:4.680px;color:#555;">Lachlan is back from competing in the Tour de France</div>
<div class="t" style="left:356.80px;top:161.30px;font-size:4.680px;color:#777;">Dec 2, 20...</div>
<div class="t" style="left:394.10px;top:161.30px;font-size:4.680px;color:#666;">3 - Execute</div>
<div style="left:3.80px;top:168.69px;width:421.30px;height:0.50px;background:#eeeeee;"></div>
<div style="left:32.20px;top:172.69px;width:5.00px;height:5.00px;background:#98cf5a;border-radius:50%;"></div>
<div class="t" style="left:59.50px;top:174.30px;font-size:4.680px;color:#3a8bc9;">*Finance</div>
<div class="t" style="left:109.06px;top:174.30px;font-size:4.680px;color:#3a8bc9;">Use AI to automate fi...</div>
<div class="t" style="left:171.00px;top:174.30px;font-size:4.680px;color:#555;">Initiative Created</div>
<div class="t" style="left:356.80px;top:174.30px;font-size:4.680px;color:#777;">Feb 12, 2...</div>
<div class="t" style="left:394.10px;top:174.30px;font-size:4.680px;color:#666;">2 - Plan</div>
<div style="left:3.80px;top:181.32px;width:421.30px;height:0.50px;background:#eeeeee;"></div>
<div style="left:32.20px;top:185.32px;width:5.00px;height:5.00px;background:#98cf5a;border-radius:50%;"></div>
<div class="t" style="left:59.50px;top:187.30px;font-size:4.680px;color:#3a8bc9;">*Finance</div>
<div class="t" style="left:122.06px;top:186.30px;font-size:4.680px;color:#3a8bc9;">Invoice manag...</div>
<div class="t" style="left:171.00px;top:187.30px;font-size:4.680px;color:#555;">Initiative Created</div>
<div class="t" style="left:356.80px;top:187.30px;font-size:4.680px;color:#777;">Feb 12, 2...</div>
<div class="t" style="left:394.10px;top:187.30px;font-size:4.680px;color:#666;">2 - Plan</div>
<div style="left:3.80px;top:193.95px;width:421.30px;height:0.50px;background:#eeeeee;"></div>
<div style="left:32.20px;top:197.95px;width:5.00px;height:5.00px;background:#98cf5a;border-radius:50%;"></div>
<div class="t" style="left:59.50px;top:199.30px;font-size:4.680px;color:#3a8bc9;">*Finance</div>
<div class="t" style="left:116.15px;top:199.30px;font-size:4.680px;color:#3a8bc9;">Analytics to enhan...</div>
<div class="t" style="left:171.00px;top:199.30px;font-size:4.680px;color:#555;">Help!</div>
<div class="t" style="left:356.80px;top:199.30px;font-size:4.680px;color:#777;">Dec 4, 20...</div>
<div class="t" style="left:394.10px;top:200.30px;font-size:4.680px;color:#666;">2 - Plan</div>
<div style="left:3.80px;top:206.58px;width:421.30px;height:0.50px;background:#eeeeee;"></div>
<div style="left:32.20px;top:210.58px;width:5.00px;height:5.00px;background:#98cf5a;border-radius:50%;"></div>
<div class="t" style="left:59.50px;top:212.30px;font-size:4.680px;color:#3a8bc9;">*Finance</div>
<div class="t" style="left:118.25px;top:212.30px;font-size:4.680px;color:#3a8bc9;">Enter New Marke...</div>
<div class="t" style="left:171.00px;top:212.30px;font-size:4.680px;color:#555;">Initiative Created</div>
<div class="t" style="left:356.80px;top:212.30px;font-size:4.680px;color:#777;">Jun 17, 2...</div>
<div class="t" style="left:394.10px;top:212.30px;font-size:4.680px;color:#666;">5 - Compl...</div>
<div style="left:3.80px;top:219.21px;width:421.30px;height:0.50px;background:#eeeeee;"></div>
<div style="left:32.20px;top:223.21px;width:5.00px;height:5.00px;background:#98cf5a;border-radius:50%;"></div>
<div class="t" style="left:59.50px;top:225.30px;font-size:4.680px;color:#3a8bc9;">*Finance</div>
<div class="t" style="left:112.30px;top:225.30px;font-size:4.680px;color:#3a8bc9;">Trade Fair Exhibition</div>
<div class="t" style="left:171.00px;top:225.30px;font-size:4.680px;color:#555;">Initiative Created</div>
<div class="t" style="left:356.80px;top:225.30px;font-size:4.680px;color:#777;">Feb 13, 2...</div>
<div class="t" style="left:394.10px;top:225.30px;font-size:4.680px;color:#666;">1 - Idea</div>
<div style="left:3.80px;top:231.84px;width:421.30px;height:0.50px;background:#eeeeee;"></div>
<div style="left:32.20px;top:235.84px;width:5.00px;height:5.00px;background:#98cf5a;border-radius:50%;"></div>
<div class="t" style="left:59.50px;top:237.30px;font-size:4.680px;color:#3a8bc9;">*Finance</div>
<div class="t" style="left:121.79px;top:237.30px;font-size:4.680px;color:#3a8bc9;">Drive Growth</div>
<div class="t" style="left:171.00px;top:237.30px;font-size:4.680px;color:#555;">this is going well this week ...</div>
<div class="t" style="left:356.80px;top:237.30px;font-size:4.680px;color:#777;">Nov 19, 2...</div>
<div class="t" style="left:394.10px;top:237.30px;font-size:4.680px;color:#666;">2 - Plan</div>
<div style="left:3.80px;top:244.47px;width:421.30px;height:0.50px;background:#eeeeee;"></div>
<div style="left:32.20px;top:248.47px;width:5.00px;height:5.00px;background:#98cf5a;border-radius:50%;"></div>
<div class="t" style="left:59.50px;top:250.30px;font-size:4.680px;color:#3a8bc9;">*Finance</div>
<div class="t" style="left:120.31px;top:250.30px;font-size:4.680px;color:#3a8bc9;">Reporting</div>
<div class="t" style="left:171.00px;top:250.30px;font-size:4.680px;color:#555;">Initiative Created</div>
<div class="t" style="left:356.80px;top:250.30px;font-size:4.680px;color:#777;">Feb 13, 2...</div>
<div class="t" style="left:394.10px;top:250.30px;font-size:4.680px;color:#666;">3 - Execute</div>
<svg style="left:417.10px;top:225.00px" width="8.60" height="8.60" viewBox="0 0 8.6 8.6"><defs><linearGradient id="cg3" x1="0" y1="0" x2="1" y2="0"><stop offset="0" stop-color="#1f63b5"/><stop offset="1" stop-color="#5b9ad8"/></linearGradient></defs><path d="M0.75 0.75 L4.3 0.75 A3.55 3.55 0 1 1 0.75 4.3 Z" fill="#fff" stroke="url(#cg3)" stroke-width="1.35" stroke-linejoin="round"/><circle cx="3.5" cy="4.4" r="0.55" fill="#777"/><circle cx="5.3" cy="4.4" r="0.55" fill="#777"/></svg></div>
<div class="win" style="left:9.00px;top:324.00px;width:454.60px;height:226.40px;z-index:3"><div style="left:0.00px;top:40.70px;width:454.60px;height:185.70px;background:#f4f6fb;"></div>
<div style="left:0.00px;top:28.50px;width:454.60px;height:12.20px;background:#e0e6f2;"></div>
<div class="t" style="left:3.00px;top:3.00px;font-size:3.544px;color:#555;">Business Transformation</div>
<div class="t" style="left:44.40px;top:2.00px;font-size:4.500px;color:#aaa;">›</div>
<div class="t" style="left:48.30px;top:3.00px;font-size:3.565px;color:#a0a0a0;">Business Transformation Portfolio</div>
<div class="t" style="left:103.75px;top:2.00px;font-size:4.500px;color:#aaa;">›</div>
<div class="t" style="left:107.40px;top:3.00px;font-size:3.587px;color:#a0a0a0;">Unlock Full Potential</div>
<svg style="left:4.10px;top:9.70px" width="7.00" height="7.00" viewBox="0 0 10 10"><polygon points="5.000,1.150 6.111,3.821 8.994,4.052 6.797,5.934 7.469,8.748 5.000,7.240 2.531,8.748 3.203,5.934 1.006,4.052 3.889,3.821" fill="none" stroke="#444" stroke-width="0.95" stroke-linejoin="round"/></svg>
<div class="t" style="left:13.20px;top:10.00px;font-size:7.420px;color:#2e2e2e;-webkit-text-stroke:0.22px #2e2e2e;">Executive Reporting</div>
<div class="t" style="left:3.20px;top:22.00px;font-size:4.145px;color:#2f80c2;">Current Performance</div>
<div class="t" style="left:51.70px;top:22.00px;font-size:4.360px;color:#777;">What's Changed</div>
<div class="t" style="left:93.40px;top:22.00px;font-size:4.274px;color:#777;">Initiative Planning</div>
<div class="t" style="left:138.20px;top:22.00px;font-size:4.091px;color:#777;">Risks</div>
<div class="t" style="left:159.30px;top:22.00px;font-size:4.318px;color:#777;">Approvals</div>
<div style="left:0.00px;top:27.50px;width:46.90px;height:1.20px;background:#3b8ccb;"></div>
<div style="left:407.00px;top:4.50px;width:8.80px;height:8.80px;background:#f0433a;border-radius:50%;box-shadow:0 0 0 0.6px #fff;"></div>
<div class="t" style="left:409.15px;top:9.00px;font-size:3.000px;color:#fff;">RG</div>
<div style="left:414.50px;top:4.50px;width:8.80px;height:8.80px;background:#22b7d3;border-radius:50%;box-shadow:0 0 0 0.6px #fff;"></div>
<div class="t" style="left:416.98px;top:9.00px;font-size:3.000px;color:#176a80;">RL</div>
<div style="left:421.70px;top:4.50px;width:8.80px;height:8.80px;background:#1e9ee0;border-radius:50%;box-shadow:0 0 0 0.6px #fff;"></div>
<div class="t" style="left:424.10px;top:9.00px;font-size:3.000px;color:#0d4f80;">PK</div>
<svg style="left:429.00px;top:4.60px" width="8.60" height="8.60" viewBox="0 0 10 10"><defs><clipPath id="ph4"><circle cx="5" cy="5" r="5"/></clipPath></defs><g clip-path="url(#ph4)"><rect width="10" height="10" fill="#f3f3f3"/><path d="M1.2 10.5 Q1.6 7.6 5 7.5 Q8.4 7.6 8.8 10.5 Z" fill="#c9d8ea"/><ellipse cx="5" cy="5.0" rx="2.55" ry="3.0" fill="#efc1a6"/><path d="M2.3 4.9 Q2.0 1.0 5.0 1.0 Q8.0 1.0 7.7 4.9 L7.2 3.3 Q5 2.5 2.8 3.3 Z" fill="#6e4a33"/><rect x="2.6" y="4.3" width="4.8" height="0.8" fill="#555" opacity="0.7"/></g></svg>
<div style="left:444.35px;top:7.05px;width:1.10px;height:1.10px;background:#777;border-radius:50%;"></div>
<div style="left:444.35px;top:8.75px;width:1.10px;height:1.10px;background:#777;border-radius:50%;"></div>
<div style="left:444.35px;top:10.45px;width:1.10px;height:1.10px;background:#777;border-radius:50%;"></div>
<div class="t" style="left:332.40px;top:34.00px;font-size:4.500px;color:#666;">Workstream</div>
<svg style="left:359.90px;top:34.10px" width="2.00" height="1.00" viewBox="0 0 2 1"><path d="M0 0 L2 0 L1 1 Z" fill="#444"/></svg>
<div class="t" style="left:368.80px;top:34.00px;font-size:4.874px;color:#333;"><span style="font-size:4.450px;color:#666;">Time Period:</span><span style="font-size:4.874px;color:#333;font-weight:bold;margin-left:0.84px;">(1/1/25 - 12/31/27)</span></div>
<svg style="left:436.70px;top:34.10px" width="2.00" height="1.00" viewBox="0 0 2 1"><path d="M0 0 L2 0 L1 1 Z" fill="#444"/></svg>
<svg style="left:445.40px;top:32.30px" width="5.20" height="6.00" viewBox="0 0 5.2 6"><path d="M0 0 L5.2 0 L3.3 2.5 L3.3 6.0 L1.9 5.0 L1.9 2.5 Z" fill="#555"/></svg>
<div style="left:448.10px;top:28.10px;width:6.60px;height:6.60px;background:#0b77c0;border-radius:50%;"></div>
<div class="t" style="left:450.40px;top:31.00px;font-size:3.600px;color:#cfe6f7;">3</div>
<div style="left:2.90px;top:45.80px;width:89.10px;height:26.10px;background:#fff;border-radius:1.5px;box-shadow:0 0.7px 1.6px rgba(0,0,0,0.14),0 0 0.6px rgba(0,0,0,0.10);"></div>
<div class="t" style="left:8.10px;top:53.00px;font-size:4.550px;color:#555;">Net Benefit - Plan</div>
<div class="t" style="left:7.90px;top:58.00px;font-size:7.534px;color:#3a8fd1;">$6,805,439 (69%)</div>
<svg style="left:73.40px;top:52.50px" width="12.60" height="12.60" viewBox="0 0 14 14"><circle cx="7" cy="5.4" r="5.2" fill="#1a86cb"/><path d="M3.6 8.6 L10.4 8.6 L10.2 13.0 Q7 14.4 3.8 13.0 Z" fill="#1a86cb"/><path d="M5.6 4.2 L7 6.0 L8.4 4.2 M7 6.0 L7 9.4" stroke="#fff" stroke-width="0.9" fill="none"/><path d="M4.8 10.6 L9.2 10.6 M4.8 11.9 L9.2 11.9" stroke="#d8ecf8" stroke-width="0.55"/></svg>
<div style="left:97.40px;top:45.80px;width:88.60px;height:26.10px;background:#fff;border-radius:1.5px;box-shadow:0 0.7px 1.6px rgba(0,0,0,0.14),0 0 0.6px rgba(0,0,0,0.10);"></div>
<div class="t" style="left:102.60px;top:53.00px;font-size:4.550px;color:#555;">Net Benefit - Forecast</div>
<div class="t" style="left:102.40px;top:58.00px;font-size:7.534px;color:#3a8fd1;">$9,589,971 (97%)</div>
<svg style="left:167.00px;top:51.60px" width="14.40" height="14.40" viewBox="0 0 16 16"><g fill="#1a86cb"><rect x="1.0" y="7.3" width="2.0" height="4.9" rx="0.9"/><rect x="4.85" y="4.2" width="2.0" height="4.6" rx="0.9"/><rect x="8.4" y="1.5" width="2.0" height="8.1" rx="0.9"/><path d="M15.4 6.3 L12.2 7.0 L14.9 9.7 Z"/></g><path d="M1.9 14.5 L5.75 11.1 L8.0 13.3 L13.6 8.4" stroke="#1a86cb" stroke-width="1.9" fill="none" stroke-linecap="round" stroke-linejoin="round"/></svg>
<div style="left:191.20px;top:45.80px;width:89.10px;height:26.10px;background:#fff;border-radius:1.5px;box-shadow:0 0.7px 1.6px rgba(0,0,0,0.14),0 0 0.6px rgba(0,0,0,0.10);"></div>
<div class="t" style="left:196.40px;top:53.00px;font-size:4.550px;color:#555;">Net Benefit - Actual</div>
<div class="t" style="left:196.20px;top:58.00px;font-size:7.597px;color:#3a8fd1;">$2,823,452 (29%)</div>
<svg style="left:261.20px;top:52.59px" width="12.60" height="12.60" viewBox="0 0 14 14"><path d="M3.2 0 L10.8 0 L10.8 5.6 Q10.6 8.6 7.6 9.2 L7.6 11.8 L10.6 11.8 L10.6 13.6 L3.4 13.6 L3.4 11.8 L6.4 11.8 L6.4 9.2 Q3.4 8.6 3.2 5.6 Z" fill="#1a86cb"/><path d="M3.4 1.8 Q0.4 1.6 0.6 4.2 Q0.9 6.6 3.8 7.0 M10.6 1.8 Q13.6 1.6 13.4 4.2 Q13.1 6.6 10.2 7.0" stroke="#1a86cb" stroke-width="1.3" fill="none"/></svg>
<div style="left:285.70px;top:45.80px;width:88.30px;height:26.10px;background:#fff;border-radius:1.5px;box-shadow:0 0.7px 1.6px rgba(0,0,0,0.14),0 0 0.6px rgba(0,0,0,0.10);"></div>
<div class="t" style="left:290.90px;top:53.00px;font-size:4.550px;color:#555;">Target</div>
<div class="t" style="left:290.70px;top:58.00px;font-size:7.593px;color:#3a8fd1;">$9,900,000</div>
<svg style="left:354.10px;top:51.60px" width="14.40" height="14.40" viewBox="0 0 16 16"><circle cx="8" cy="8" r="6.6" stroke="#1a86cb" stroke-width="1.6" fill="none"/><circle cx="8" cy="8" r="3.6" stroke="#1a86cb" stroke-width="1.4" fill="none"/><circle cx="8" cy="8" r="1.3" fill="#1a86cb"/></svg>
<div style="left:379.20px;top:45.90px;width:70.50px;height:179.70px;background:#e8f2fa;border-radius:1.5px;"></div>
<svg style="left:384.10px;top:49.50px" width="7.00" height="7.00" viewBox="0 0 7 7"><circle cx="3.5" cy="3.5" r="2.9" stroke="#4a9ad8" stroke-width="0.75" fill="none"/><rect x="3.15" y="3.0" width="0.7" height="2.2" fill="#4a9ad8"/><rect x="3.15" y="1.75" width="0.7" height="0.7" fill="#4a9ad8"/></svg>
<div class="t" style="left:395.10px;top:52.00px;font-size:4.600px;color:#333;">Welcome Ryan</div>
<div class="t" style="left:395.10px;top:59.00px;font-size:4.100px;color:#777;">Here is the current</div>
<div class="t" style="left:395.10px;top:65.00px;font-size:4.100px;color:#777;">performance annually. You</div>
<div class="t" style="left:395.10px;top:71.00px;font-size:4.100px;color:#777;">can select a different time</div>
<div class="t" style="left:395.10px;top:77.00px;font-size:4.100px;color:#777;">period and filter by</div>
<div class="t" style="left:395.10px;top:83.00px;font-size:4.100px;color:#777;">workstream and drill down</div>
<div class="t" style="left:395.10px;top:89.00px;font-size:4.100px;color:#777;">to see more details. See</div>
<div class="t" style="left:395.10px;top:96.00px;font-size:4.100px;color:#777;">the table at the bottom for</div>
<div class="t" style="left:395.10px;top:102.00px;font-size:4.100px;color:#777;">more details.</div>
<svg style="left:441.90px;top:197.20px" width="8.60" height="8.60" viewBox="0 0 8.6 8.6"><defs><linearGradient id="cg5" x1="0" y1="0" x2="1" y2="0"><stop offset="0" stop-color="#1f63b5"/><stop offset="1" stop-color="#5b9ad8"/></linearGradient></defs><path d="M0.75 0.75 L4.3 0.75 A3.55 3.55 0 1 1 0.75 4.3 Z" fill="#fff" stroke="url(#cg5)" stroke-width="1.35" stroke-linejoin="round"/><circle cx="3.5" cy="4.4" r="0.55" fill="#777"/><circle cx="5.3" cy="4.4" r="0.55" fill="#777"/></svg>
<div style="left:2.90px;top:77.00px;width:182.40px;height:149.40px;background:#fff;border-radius:1.5px;box-shadow:0 0.7px 1.6px rgba(0,0,0,0.14),0 0 0.6px rgba(0,0,0,0.10);"></div>
<div style="left:191.20px;top:77.00px;width:182.80px;height:149.40px;background:#fff;border-radius:1.5px;box-shadow:0 0.7px 1.6px rgba(0,0,0,0.14),0 0 0.6px rgba(0,0,0,0.10);"></div>
<div class="t" style="left:7.90px;top:84.00px;font-size:5.169px;color:#3a3a3a;-webkit-text-stroke:0.08px #3a3a3a;">Cumulative Net Benefit by Stage</div>
<div class="t" style="left:195.90px;top:84.00px;font-size:5.182px;color:#3a3a3a;-webkit-text-stroke:0.08px #3a3a3a;">Cumulative Net Benefit</div>
<div style="left:27.70px;top:171.73px;width:153.20px;height:0.70px;background:#f0f0f0;"></div>
<div class="t" style="left:11.88px;top:171.00px;font-size:3.900px;color:#999;">2.5MM</div>
<div style="left:27.70px;top:153.41px;width:153.20px;height:0.70px;background:#f0f0f0;"></div>
<div class="t" style="left:15.13px;top:153.00px;font-size:3.900px;color:#999;">5MM</div>
<div style="left:27.70px;top:135.09px;width:153.20px;height:0.70px;background:#f0f0f0;"></div>
<div class="t" style="left:11.88px;top:134.00px;font-size:3.900px;color:#999;">7.5MM</div>
<div style="left:27.70px;top:116.77px;width:153.20px;height:0.70px;background:#f0f0f0;"></div>
<div class="t" style="left:12.96px;top:116.00px;font-size:3.900px;color:#999;">10MM</div>
<div style="left:27.70px;top:98.45px;width:153.20px;height:0.70px;background:#f0f0f0;"></div>
<div class="t" style="left:9.71px;top:98.00px;font-size:3.900px;color:#999;">12.5MM</div>
<div class="t" style="left:21.63px;top:189.00px;font-size:3.900px;color:#999;">0</div>
<div style="left:41.40px;top:183.60px;width:24.40px;height:6.80px;background:#8c8c8e;"></div>
<div style="left:41.40px;top:168.80px;width:24.40px;height:14.80px;background:#b1b1b3;"></div>
<div style="left:41.40px;top:155.20px;width:24.40px;height:13.60px;background:#3197cf;"></div>
<div style="left:41.40px;top:168.50px;width:24.40px;height:0.60px;background:rgba(255,255,255,0.3);"></div>
<div style="left:41.40px;top:183.30px;width:24.40px;height:0.60px;background:rgba(255,255,255,0.3);"></div>
<div class="t" style="left:49.26px;top:196.00px;font-size:3.900px;color:#888;">2025</div>
<div style="left:92.30px;top:183.60px;width:24.40px;height:6.80px;background:#8c8c8e;"></div>
<div style="left:92.30px;top:148.50px;width:24.40px;height:35.10px;background:#b1b1b3;"></div>
<div style="left:92.30px;top:128.70px;width:24.40px;height:19.80px;background:#3197cf;"></div>
<div style="left:92.30px;top:148.20px;width:24.40px;height:0.60px;background:rgba(255,255,255,0.3);"></div>
<div style="left:92.30px;top:183.30px;width:24.40px;height:0.60px;background:rgba(255,255,255,0.3);"></div>
<div class="t" style="left:100.16px;top:196.00px;font-size:3.900px;color:#888;">2026</div>
<div style="left:143.10px;top:183.60px;width:24.40px;height:6.80px;background:#8c8c8e;"></div>
<div style="left:143.10px;top:137.60px;width:24.40px;height:46.00px;background:#b1b1b3;"></div>
<div style="left:143.10px;top:117.10px;width:24.40px;height:20.50px;background:#3197cf;"></div>
<div style="left:143.10px;top:137.30px;width:24.40px;height:0.60px;background:rgba(255,255,255,0.3);"></div>
<div style="left:143.10px;top:183.30px;width:24.40px;height:0.60px;background:rgba(255,255,255,0.3);"></div>
<div class="t" style="left:150.96px;top:197.00px;font-size:3.900px;color:#888;">2027</div>
<div style="left:27.70px;top:190.00px;width:153.20px;height:0.90px;background:#9a9a9a;"></div>
<svg style="left:-9.00px;top:76.00px" width="200.00" height="100.00" viewBox="0 0 200 100"><polyline points="62.6,77 113.5,59.4 164.3,41.6" stroke="#a3d86e" stroke-width="1.25" fill="none"/><circle cx="62.6" cy="77" r="1.6" fill="#8cc84b"/><circle cx="113.5" cy="59.4" r="1.6" fill="#8cc84b"/><circle cx="164.3" cy="41.6" r="1.6" fill="#8cc84b"/></svg>
<div style="left:15.10px;top:207.20px;width:4.00px;height:4.00px;background:#1f8dd0;border-radius:50%;"></div>
<div class="t" style="left:21.40px;top:208.00px;font-size:4.150px;color:#666;">1-2 Benefit in Pipeline</div>
<div style="left:70.20px;top:207.20px;width:4.00px;height:4.00px;background:#aaaaaa;border-radius:50%;"></div>
<div class="t" style="left:76.50px;top:208.00px;font-size:4.150px;color:#666;">3-4 Benefit in Progress</div>
<div style="left:125.60px;top:207.20px;width:4.00px;height:4.00px;background:#777777;border-radius:50%;"></div>
<div class="t" style="left:131.80px;top:208.00px;font-size:4.150px;color:#666;">5 - Benefit Delivered</div>
<svg style="left:14.80px;top:212.80px" width="4.60" height="4.60" viewBox="0 0 4.6 4.6"><line x1="0" y1="2.3" x2="4.6" y2="2.3" stroke="#9fd46a" stroke-width="0.805"/><circle cx="2.3" cy="2.3" r="1.035" fill="#8ccc4e"/></svg>
<div class="t" style="left:21.40px;top:214.00px;font-size:4.150px;color:#666;">Target</div>
<div style="left:216.20px;top:176.37px;width:152.70px;height:0.70px;background:#f0f0f0;"></div>
<div class="t" style="left:199.88px;top:176.00px;font-size:3.900px;color:#999;">2.5MM</div>
<div style="left:216.20px;top:156.89px;width:152.70px;height:0.70px;background:#f0f0f0;"></div>
<div class="t" style="left:203.13px;top:156.00px;font-size:3.900px;color:#999;">5MM</div>
<div style="left:216.20px;top:137.41px;width:152.70px;height:0.70px;background:#f0f0f0;"></div>
<div class="t" style="left:199.88px;top:137.00px;font-size:3.900px;color:#999;">7.5MM</div>
<div style="left:216.20px;top:117.93px;width:152.70px;height:0.70px;background:#f0f0f0;"></div>
<div class="t" style="left:200.96px;top:117.00px;font-size:3.900px;color:#999;">10MM</div>
<div style="left:216.20px;top:98.45px;width:152.70px;height:0.70px;background:#f0f0f0;"></div>
<div class="t" style="left:197.71px;top:98.00px;font-size:3.900px;color:#999;">12.5MM</div>
<div class="t" style="left:209.63px;top:195.00px;font-size:3.900px;color:#999;">0</div>
<div style="left:227.30px;top:167.00px;width:8.20px;height:29.20px;background:#d2e7f5;"></div>
<div style="left:237.70px;top:162.60px;width:8.20px;height:33.60px;background:#efefef;"></div>
<div style="left:247.90px;top:174.20px;width:8.20px;height:22.00px;background:#e2e2e2;"></div>
<div class="t" style="left:237.36px;top:203.00px;font-size:3.900px;color:#888;">2025</div>
<div style="left:278.00px;top:147.70px;width:8.20px;height:48.50px;background:#d2e7f5;"></div>
<div style="left:288.40px;top:135.40px;width:8.20px;height:60.80px;background:#efefef;"></div>
<div style="left:298.60px;top:174.20px;width:8.20px;height:22.00px;background:#e2e2e2;"></div>
<div class="t" style="left:288.06px;top:203.00px;font-size:3.900px;color:#888;">2026</div>
<div style="left:329.00px;top:143.50px;width:8.20px;height:52.70px;background:#d2e7f5;"></div>
<div style="left:339.40px;top:121.80px;width:8.20px;height:74.40px;background:#efefef;"></div>
<div style="left:349.60px;top:174.20px;width:8.20px;height:22.00px;background:#e2e2e2;"></div>
<div class="t" style="left:339.06px;top:203.00px;font-size:3.900px;color:#888;">2027</div>
<div style="left:216.20px;top:195.80px;width:152.70px;height:0.90px;background:#8a8a8a;"></div>
<svg style="left:191.00px;top:76.00px" width="200.00" height="100.00" viewBox="0 0 200 100"><polyline points="50.7,80.4 101.4,61.9 152.4,43.3" stroke="#8fcc52" stroke-width="1.2" fill="none"/><circle cx="50.7" cy="80.4" r="1.4" fill="#80c040"/><circle cx="101.4" cy="61.9" r="1.7" fill="#80c040"/><circle cx="152.4" cy="43.3" r="1.4" fill="#80c040"/></svg>
<div style="left:273.60px;top:117.60px;width:38.40px;height:15.80px;background:#fff;border:0.6px solid #c9c9c9;border-radius:1.5px;box-sizing:border-box;box-shadow:0 0.5px 1.5px rgba(0,0,0,0.15);"></div>
<svg style="left:289.60px;top:133.00px" width="6.00" height="3.40" viewBox="0 0 6 3.4"><path d="M0 0 L3 3 L6 0" fill="#fff" stroke="#c9c9c9" stroke-width="0.6"/></svg>
<div class="t" style="left:276.10px;top:121.00px;font-size:4.200px;color:#666;">2026</div>
<div class="t" style="left:276.10px;top:126.00px;font-size:4.200px;color:#333;"><span style="font-size:4.200px;color:#666;">Target: </span><span style="font-size:4.200px;color:#333;font-weight:bold;">7,500,000</span></div>
<div style="left:237.20px;top:213.00px;width:4.00px;height:4.00px;background:#1f8dd0;border-radius:50%;"></div>
<div class="t" style="left:242.90px;top:214.00px;font-size:4.150px;color:#666;">Plan</div>
<div style="left:258.00px;top:213.00px;width:4.00px;height:4.00px;background:#aaaaaa;border-radius:50%;"></div>
<div class="t" style="left:263.70px;top:214.00px;font-size:4.150px;color:#666;">Forecast</div>
<div style="left:286.00px;top:213.00px;width:4.00px;height:4.00px;background:#777777;border-radius:50%;"></div>
<div class="t" style="left:291.70px;top:214.00px;font-size:4.150px;color:#666;">Actual</div>
<svg style="left:309.90px;top:212.70px" width="4.60" height="4.60" viewBox="0 0 4.6 4.6"><line x1="0" y1="2.3" x2="4.6" y2="2.3" stroke="#9fd46a" stroke-width="0.805"/><circle cx="2.3" cy="2.3" r="1.035" fill="#8ccc4e"/></svg>
<div class="t" style="left:316.40px;top:214.00px;font-size:4.150px;color:#666;">Target</div></div>
</body></html>
